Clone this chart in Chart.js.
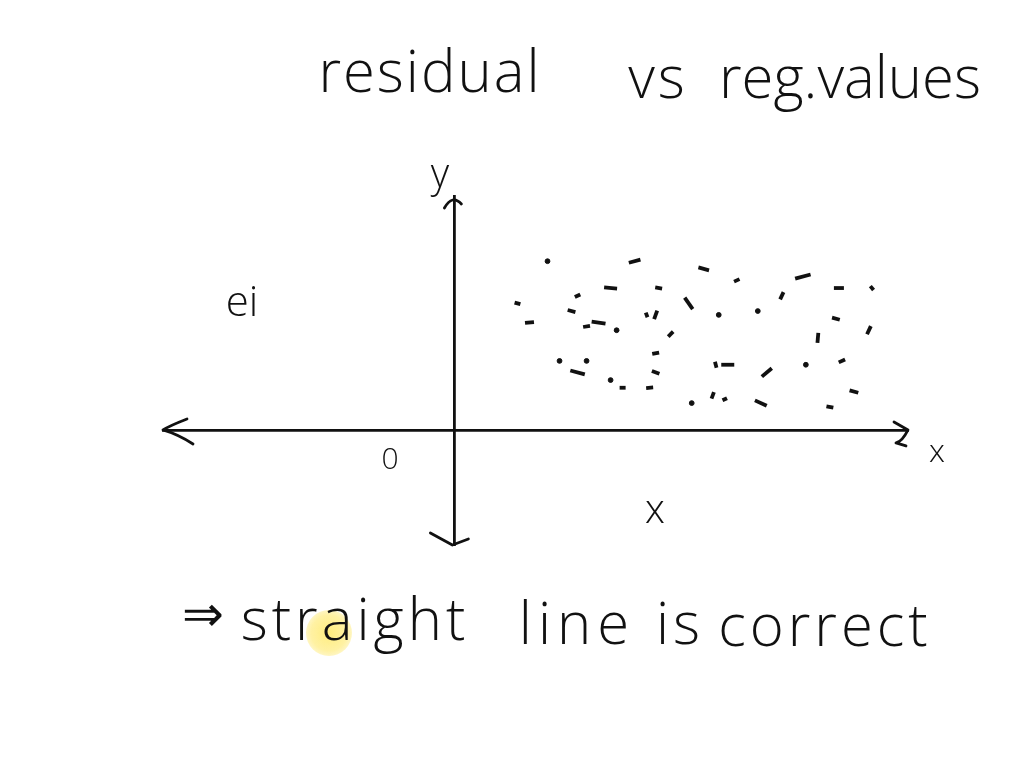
<!DOCTYPE html>
<html lang="en">
<head>
    <meta charset="UTF-8">
    <title>residual vs reg.values</title>
    <script src="https://cdn.jsdelivr.net/npm/chart.js"></script>
    <style>
        body { margin: 0; background: #fff; }
        .board { position: relative; width: 1024px; height: 768px; overflow: hidden; }
        #plot { position: absolute; left: 0; top: 0; }
        .note {
            position: absolute;
            transform: translate(-50%, -50%);
            font-family: "Open Sans", "DejaVu Sans", sans-serif;
            font-weight: 300;
            color: #111;
            line-height: 1;
            white-space: nowrap;
        }
        .glow {
            position: absolute;
            left: 306px; top: 610px; width: 46px; height: 46px;
            border-radius: 50%;
            background: radial-gradient(circle, rgba(255,236,120,0.95) 0%, rgba(255,238,140,0.8) 55%, rgba(255,245,190,0) 100%);
        }
    </style>
</head>
<body>
<div class="board">
    <canvas id="plot" width="1024" height="768"></canvas>

    <div class="glow"></div>

    <!-- title, one word at a time to keep the hand-written spacing -->
    <span class="note" style="left:430px; top:70px; font-size:58px; letter-spacing:2px;">residual</span>
    <span class="note" style="left:658px; top:76px; font-size:58px; letter-spacing:3px;">vs</span>
    <span class="note" style="left:850px; top:76px; font-size:58px;">reg.values</span>

    <!-- axis notes -->
    <span class="note" style="left:440px; top:172px; font-size:40px;">y</span>
    <span class="note" style="left:242px; top:300px; font-size:42px;">ei</span>
    <span class="note" style="left:390px; top:458px; font-size:30px;">0</span>
    <span class="note" style="left:937px; top:450px; font-size:32px;">x</span>
    <span class="note" style="left:655px; top:508px; font-size:40px;">x</span>

    <!-- conclusion -->
    <span class="note" style="left:203px; top:612px; font-size:50px;">⇒</span>
    <span class="note" style="left:355px; top:618px; font-size:58px; letter-spacing:4px;">straight</span>
    <span class="note" style="left:577px; top:622px; font-size:58px; letter-spacing:6px;">line</span>
    <span class="note" style="left:680px; top:622px; font-size:58px; letter-spacing:4px;">is</span>
    <span class="note" style="left:825px; top:624px; font-size:58px; letter-spacing:4px;">correct</span>
</div>

<script>
    // fitted (reg.) values and residuals ei
    const regValues = [
        3.1, 6.0, 5.2, 6.8, 7.8, 4.1, 2.1, 3.9, 6.4, 6.7,
        2.5, 4.8, 4.4, 5.4, 7.2, 6.7, 3.5, 4.4, 4.1, 6.7,
        5.2, 5.6, 6.5, 8.3, 9.4, 11.6, 12.8, 13.9, 10.9, 8.8,
        10.1, 12.7, 13.8, 12.1, 8.7, 9.1, 10.4, 11.7, 12.9, 7.9,
        8.6, 9.0, 10.2, 13.3, 12.5
    ];
    const residuals = [
        4.4, 4.4, 3.7, 3.7, 3.3, 3.5, 3.3, 3.1, 3.0, 3.0,
        2.8, 2.8, 2.7, 2.6, 2.5, 2.0, 1.8, 1.8, 1.5, 1.5,
        1.3, 1.1, 1.1, 4.2, 3.9, 4.0, 3.7, 3.7, 3.5, 3.0,
        3.1, 2.9, 2.6, 2.4, 1.7, 1.7, 1.5, 1.7, 1.8, 0.7,
        0.9, 0.8, 0.7, 1.0, 0.6
    ];

    // pen strokes: length of each dash (0 = a plain dot) and its tilt in degrees
    const strokeLength = [
        0, 12, 13, 7, 14, 6, 6, 8, 5, 9,
        9, 14, 7, 0, 7, 7, 0, 0, 15, 8,
        0, 6, 7, 11, 6, 16, 10, 5, 8, 0,
        0, 8, 9, 10, 6, 13, 13, 0, 7, 0,
        7, 5, 13, 9, 7
    ];
    const strokeTilt = [
        0, -15, 5, 10, 55, -25, 15, 15, 70, -70,
        -5, 8, -10, 0, -45, -10, 0, 0, 15, 20,
        0, 0, -5, 15, -25, -15, 0, 50, -65, 0,
        0, 15, -65, -85, 75, 0, -40, 0, -25, 0,
        -70, -25, 25, 15, 10
    ];

    const ink = '#111';
    const points = regValues.map((x, i) => ({ x: x, y: residuals[i] }));

    // arrow heads at the four ends of the hand drawn axes
    const arrowHeads = {
        id: 'arrowHeads',
        afterDraw(chart) {
            const c = chart.ctx;
            const xs = chart.scales.x;
            const ys = chart.scales.y;
            const x0 = xs.getPixelForValue(0);
            const y0 = ys.getPixelForValue(0);
            const L = xs.left, R = xs.right, T = ys.top, B = ys.bottom;
            c.save();
            c.strokeStyle = ink;
            c.lineWidth = 2.8;
            c.lineCap = 'round';
            c.lineJoin = 'round';
            c.beginPath();
            // left
            c.moveTo(L + 24, y0 - 11);
            c.quadraticCurveTo(L + 6, y0 - 4, L, y0);
            c.quadraticCurveTo(L + 14, y0 + 4, L + 30, y0 + 14);
            // right
            c.moveTo(R - 14, y0 - 8);
            c.lineTo(R, y0);
            c.quadraticCurveTo(R - 6, y0 + 12, R - 12, y0 + 13);
            c.lineTo(R - 2, y0 + 16);
            // top
            c.moveTo(x0 - 10, T + 12);
            c.quadraticCurveTo(x0 - 2, T - 2, x0 + 7, T + 8);
            // bottom
            c.moveTo(x0 - 24, B - 12);
            c.lineTo(x0 - 2, B);
            c.lineTo(x0 + 14, B - 6);
            c.stroke();
            c.restore();
        }
    };

    new Chart(document.getElementById('plot'), {
        type: 'scatter',
        data: {
            datasets: [{
                label: 'ei',
                data: points,
                pointStyle: ctx => strokeLength[ctx.dataIndex] ? 'line' : 'circle',
                radius: ctx => strokeLength[ctx.dataIndex] ? strokeLength[ctx.dataIndex] / 2 : 2.4,
                rotation: ctx => strokeTilt[ctx.dataIndex],
                borderWidth: ctx => strokeLength[ctx.dataIndex] ? 3.8 : 1,
                borderColor: ink,
                backgroundColor: ink,
                hoverRadius: ctx => strokeLength[ctx.dataIndex] ? strokeLength[ctx.dataIndex] / 2 : 2.4
            }]
        },
        options: {
            responsive: false,
            animation: false,
            layout: {
                padding: { left: 163, right: 116, top: 196, bottom: 223 }
            },
            plugins: {
                legend: { display: false },
                title: { display: false },
                tooltip: { enabled: false }
            },
            scales: {
                x: {
                    type: 'linear',
                    min: -9.7,
                    max: 15.1,
                    position: { y: 0 },
                    grid: { display: false },
                    ticks: { display: false },
                    border: { display: true, color: ink, width: 2.8 }
                },
                y: {
                    type: 'linear',
                    min: -3.0,
                    max: 6.1,
                    position: { x: 0 },
                    grid: { display: false },
                    ticks: { display: false },
                    border: { display: true, color: ink, width: 2.8 }
                }
            }
        },
        plugins: [arrowHeads]
    });
</script>
</body>
</html>
